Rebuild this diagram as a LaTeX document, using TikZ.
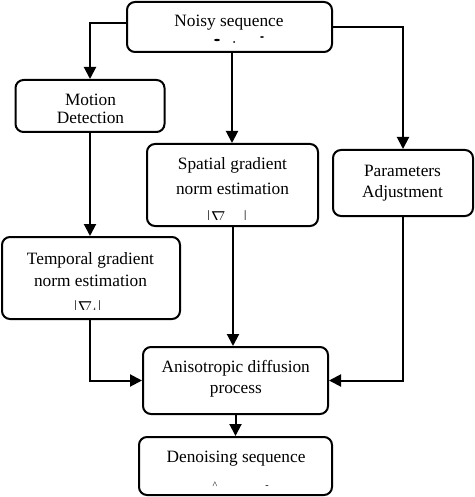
\documentclass[tikz,border=0pt]{standalone}
\usepackage{fontspec}
\setmainfont{Liberation Serif}
\usetikzlibrary{arrows.meta}
\begin{document}
\begin{tikzpicture}[x=1pt,y=-1pt,
  box/.style={draw=black,line width=2pt,rounded corners=8pt,inner sep=0pt,fill=white},
  txt/.style={anchor=base,inner sep=0pt,font=\fontsize{17.3}{20}\selectfont},
  flow/.style={line width=2pt,-{Triangle[length=12pt,width=12pt]}}]
\useasboundingbox[fill=white] (0,0) rectangle (474,497);
% boxes
\node[box,minimum width=205pt,minimum height=50pt] (noisy) at (229.5,27) {};
\node[box,minimum width=149pt,minimum height=52pt] (motion) at (90,106) {};
\node[box,minimum width=171pt,minimum height=82pt] (spatial) at (232.5,185) {};
\node[box,minimum width=140pt,minimum height=66pt] (params) at (403,183) {};
\node[box,minimum width=178pt,minimum height=82pt] (temporal) at (91,278) {};
\node[box,minimum width=185pt,minimum height=67pt] (aniso) at (235.5,380.5) {};
\node[box,minimum width=193pt,minimum height=58pt] (denoise) at (235.5,466) {};
% texts
\node[txt] (t1) at (229,27) {Noisy sequence};
\fill (217,40) ellipse (3pt and 1.2pt);
\fill (234,42) circle (1pt);
\fill (262,37) ellipse (2pt and 0.8pt);
\node[txt] (t2a) at (90.5,105.5) {Motion};
\node[txt] (t2b) at (90.5,124) {Detection};
\node[txt] (t3a) at (232.5,169) {Spatial gradient};
\node[txt] (t3b) at (232.5,194) {norm estimation};
\begin{scope}
\clip (140,205) rectangle (330,219);
\node[txt] (t3c) at (227,223) {$|\nabla\quad|$};
\end{scope}
\node[txt] (t4a) at (402.5,176.7) {Parameters};
\node[txt] (t4b) at (402.5,197.7) {Adjustment};
\node[txt] (t5a) at (90.5,264) {Temporal gradient};
\node[txt] (t5b) at (90.5,286) {norm estimation};
\begin{scope}
\clip (0,298) rectangle (180,309);
\node[txt] (t5c) at (87.5,313) {$|\nabla_t|$};
\end{scope}
\node[txt] (t6a) at (235.8,372) {Anisotropic diffusion};
\node[txt] (t6b) at (235.8,393) {process};
\node[txt] (t7) at (236,462) {Denoising sequence};
\node[txt,font=\fontsize{10}{12}\selectfont] (t7b) at (215,488) {\textasciicircum};
\node[txt,font=\fontsize{10}{12}\selectfont] (t7c) at (267,488) {-};
% connectors
\draw[flow] (noisy.west |- 0,23) -| (motion.north);
\draw[flow] (noisy.south -| 232,0) -- (spatial.north -| 232,0);
\draw[flow] (noisy.east |- 0,27) -| (params.north);
\draw[flow] (motion.south) -- (temporal.north -| motion.south);
\draw[flow] (temporal.south -| 90,0) |- (aniso.west);
\draw[flow] (spatial.south -| 233,0) -- (aniso.north -| 233,0);
\draw[flow] (params.south) |- (aniso.east);
\draw[flow] (aniso.south) -- (denoise.north);
\end{tikzpicture}
\end{document}
